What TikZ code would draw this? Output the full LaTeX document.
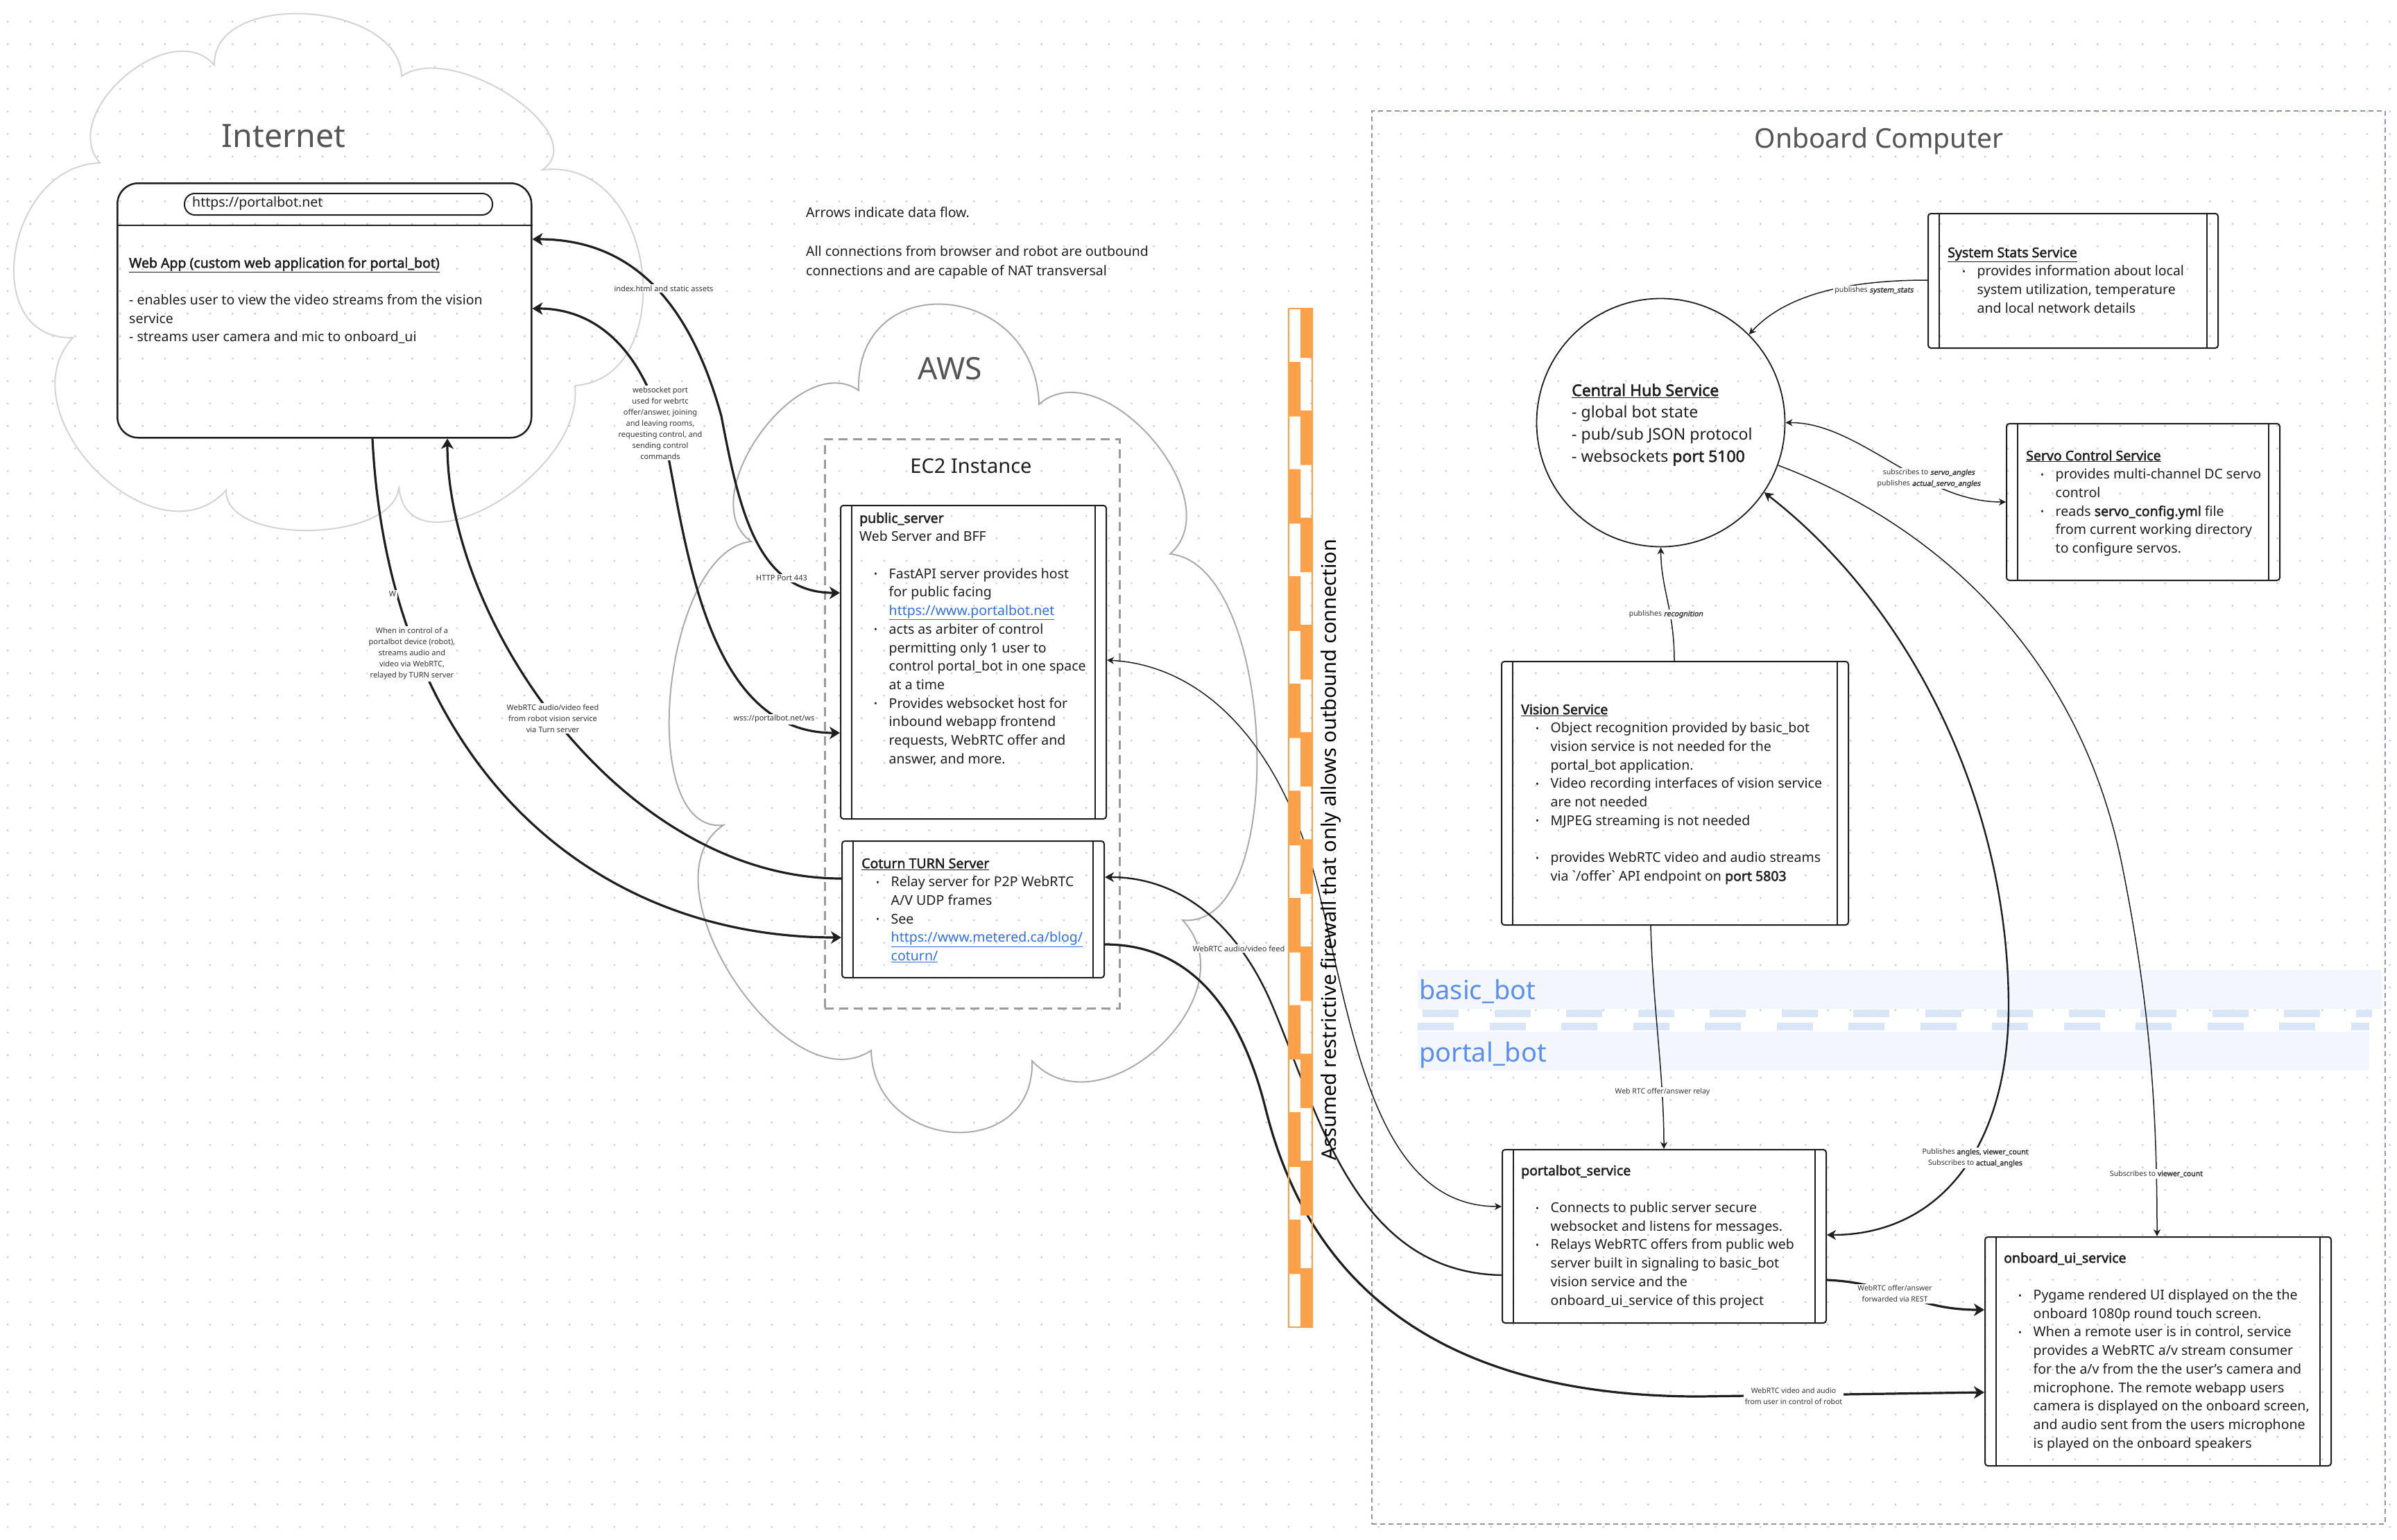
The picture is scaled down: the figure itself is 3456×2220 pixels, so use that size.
\documentclass[tikz,border=0pt]{standalone}
\usepackage{fontspec}
\setmainfont{Noto Sans}[AutoFakeBold=2.2, AutoFakeSlant=0.2]
\usetikzlibrary{arrows.meta,calc}
\definecolor{ink}{HTML}{1E1E1E}
\definecolor{lbl}{HTML}{333333}
\definecolor{titlec}{HTML}{555555}
\definecolor{cloudA}{HTML}{D4D4D4}
\definecolor{cloudB}{HTML}{ABABAB}
\definecolor{fw}{RGB}{253,160,74}
\definecolor{link}{HTML}{2F6FEB}
\definecolor{bandc}{HTML}{F4F6FD}
\definecolor{dashc}{HTML}{D9E6F8}
\definecolor{blu}{HTML}{5B8FEF}
\definecolor{dotc}{HTML}{D0D0D0}
\definecolor{obc}{HTML}{8C96A8}
\definecolor{ec2c}{HTML}{9A9A9A}
\newcommand\bodyfont{\fontsize{19.5pt}{26.7pt}\selectfont}
\newcommand\bitem{\hspace*{21pt}\makebox[21.5pt][l]{\fontsize{13pt}{13pt}\selectfont\raisebox{1.5pt}{•}}}
\newcommand\bcont{\hspace*{42.5pt}}
\tikzset{
  txt/.style={inner sep=0pt, align=left, anchor=north west, font=\bodyfont, text=ink},
  lab/.style={inner sep=2pt, fill=white, align=center, font=\fontsize{11pt}{16pt}\selectfont, text=lbl},
  labs/.style={lab, font=\fontsize{10.5pt}{16pt}\selectfont},
  procbox/.style={draw=ink, line width=2pt, rounded corners=4pt, inner sep=0pt, anchor=north west,
    path picture={\draw[ink, line width=2pt]
      ([xshift=16pt]path picture bounding box.north west) -- ([xshift=16pt]path picture bounding box.south west)
      ([xshift=-16pt]path picture bounding box.north east) -- ([xshift=-16pt]path picture bounding box.south east);}},
  bigtitle/.style={inner sep=0pt, text=titlec},
  thickc/.style={draw=ink, line width=3.2pt},
  midc/.style={draw=ink, line width=2.4pt},
  thinc/.style={draw=ink, line width=1.5pt},
  BigTip/.tip={Stealth[length=15pt,width=18pt,inset=4.5pt]},
  MidTip/.tip={Stealth[length=13pt,width=14pt,inset=4pt]},
  SmallTip/.tip={Stealth[length=10pt,width=10pt,inset=3pt]},
}
\begin{document}
\begin{tikzpicture}[x=1pt,y=-1pt]
\useasboundingbox (0,0) rectangle (3456,2220);
\fill[white] (0,0) rectangle (3456,2220);
% dot grid
\foreach \j in {0,...,67} {
  \fill[dotc] \foreach \i in {0,...,106} { (10+32.4*\i, 30+32.4*\j) rectangle ++(2.4,2.4) };
}

% clouds
\draw[cloudA, line width=2pt] (309,94)
  .. controls (306.3,-15.3) and (576.3,0.7) .. (579,110)
  .. controls (654,58) and (857,193) .. (782,245)
  .. controls (950,225) and (981,546) .. (829,556)
  .. controls (843,688) and (585,833) .. (575,701)
  .. controls (573,782.3) and (324,788.3) .. (326,707)
  .. controls (225.3,817.7) and (4.3,597.7) .. (105,487)
  .. controls (-31.7,491) and (7.3,239) .. (144,235)
  .. controls (82,162.3) and (247,21.3) .. (309,94) -- cycle;
\draw[cloudB, line width=2pt] (1083,781)
  .. controls (996,720) and (1151,502) .. (1238,563)
  .. controls (1232.7,384.3) and (1492.7,404.3) .. (1498,583)
  .. controls (1588,504) and (1777,720) .. (1687,799)
  .. controls (1841.7,813.7) and (1859.7,1341.7) .. (1705,1327)
  .. controls (1805.7,1434.3) and (1588.7,1637.3) .. (1488,1530)
  .. controls (1492,1677.3) and (1260,1662.3) .. (1256,1515)
  .. controls (1134,1595.7) and (921,1270.7) .. (1043,1190)
  .. controls (915,1204) and (955,795) .. (1083,781) -- cycle;

\node[bigtitle, font=\fontsize{46.5pt}{50pt}\selectfont] (inet) at (409,196) {Internet};
\node[bigtitle, font=\fontsize{44.5pt}{50pt}\selectfont] (aws) at (1370,532) {AWS};

% band basic_bot / portal_bot
\fill[bandc] (2044,1399) rectangle (3434,1455);
\fill[bandc] (2044,1488) rectangle (3416,1544);
\draw[dashc, line width=11pt, dash pattern=on 52pt off 51.5pt] (2051,1461.5) -- (3420,1461.5);
\draw[dashc, line width=11pt, dash pattern=on 52pt off 51.5pt] (2044,1480.5) -- (3416,1480.5);
\node[inner sep=0pt, anchor=base west, text=blu, font=\fontsize{38pt}{44pt}\selectfont] (bb) at (2046,1441) {basic\_bot};
\node[inner sep=0pt, anchor=base west, text=blu, font=\fontsize{38pt}{44pt}\selectfont] (pbt) at (2046,1531) {portal\_bot};

% containers
\node[draw=ec2c, line width=2.5pt, dash pattern=on 13pt off 8pt, minimum width=425pt, minimum height=821pt, anchor=north west, inner sep=0pt] (ec2) at (1188,632) {};
\node[inner sep=0pt, text=ink, font=\fontsize{29pt}{34pt}\selectfont] (ec2t) at (1400,672) {EC2 Instance};
\node[draw=obc, line width=1.6pt, dash pattern=on 7pt off 5pt, minimum width=1461pt, minimum height=2038pt, anchor=north west, inner sep=0pt] (ob) at (1977,159) {};
\node[bigtitle, font=\fontsize{39pt}{44pt}\selectfont] (obt) at (2709,203) {Onboard Computer};

% note
\node[txt, font=\fontsize{19.5pt}{28pt}\selectfont] (note) at (1162,293.2) {\strut Arrows indicate data flow.\\[28pt]All connections from browser and robot are outbound\\connections and are capable of NAT transversal};

% web app
\node[draw=ink, line width=2.5pt, rounded corners=30pt, minimum width=597pt, minimum height=367pt, anchor=north west, inner sep=0pt] (wa) at (168,263) {};
\draw[ink, line width=2pt] (wa.west |- 0,325) -- (wa.east |- 0,325);
\node[draw=ink, line width=2pt, rounded corners=15pt, minimum width=444pt, minimum height=31pt, anchor=north west, inner sep=0pt] (addr) at (265,278) {};
\node[inner sep=0pt, anchor=west, font=\bodyfont, text=ink] (addrt) at (277,293) {https://portalbot.net};
\node[txt] (wat) at (186,367.2) {\strut\textbf{\underline{Web App (custom web application for portal\_bot)}}\\[26.7pt]- enables user to view the video streams from the vision\\service\\- streams user camera and mic to onboard\_ui};

% public_server
\node[procbox, minimum width=383pt, minimum height=452pt] (ps) at (1211,728) {};
\node[txt] (pst) at (1239,735.2) {\strut\textbf{public\_server}\\Web Server and BFF\\[26.7pt]\bitem FastAPI server provides host\\\bcont for public facing\\\bcont{\color{link}\underline{https://www.portalbot.net}}\\\bitem acts as arbiter of control\\\bcont permitting only 1 user to\\\bcont control portal\_bot in one space\\\bcont at a time\\\bitem Provides websocket host for\\\bcont inbound webapp frontend\\\bcont requests, WebRTC offer and\\\bcont answer, and more.};

% coturn
\node[procbox, minimum width=378pt, minimum height=197pt] (ct) at (1213,1212) {};
\node[txt] (ctt) at (1242,1233.2) {\strut\textbf{\underline{Coturn TURN Server}}\\\bitem Relay server for P2P WebRTC\\\bcont A/V UDP frames\\\bitem See\\\bcont{\color{link}\underline{https://www.metered.ca/blog/}}\\\bcont{\color{link}\underline{coturn/}}};

% central hub
\node[draw=ink, line width=1.8pt, circle, minimum size=358pt, inner sep=0pt] (hub) at (2394.5,609.5) {};
\node[txt, font=\fontsize{23pt}{31.7pt}\selectfont] (hubt) at (2266,548.7) {\strut\textbf{\underline{Central Hub Service}}\\- global bot state\\- pub/sub JSON protocol\\- websockets \textbf{port 5100}};

% system stats
\node[procbox, minimum width=418pt, minimum height=194pt] (ss) at (2779,307) {};
\node[txt] (sst) at (2808,352.2) {\strut\textbf{\underline{System Stats Service}}\\\bitem provides information about local\\\bcont system utilization, temperature\\\bcont and local network details};

% servo
\node[procbox, minimum width=394pt, minimum height=226pt] (sv) at (2892,610) {};
\node[txt] (svt) at (2921,645.2) {\strut\textbf{\underline{Servo Control Service}}\\\bitem provides multi-channel DC servo\\\bcont control\\\bitem reads \textbf{servo\_config.yml} file\\\bcont from current working directory\\\bcont to configure servos.};

% vision
\node[procbox, minimum width=500pt, minimum height=380pt] (vs) at (2164,953) {};
\node[txt] (vst) at (2193,1011.2) {\strut\textbf{\underline{Vision Service}}\\\bitem Object recognition provided by basic\_bot\\\bcont vision service is not needed for the\\\bcont portal\_bot application.\\\bitem Video recording interfaces of vision service\\\bcont are not needed\\\bitem MJPEG streaming is not needed\\[26.7pt]\bitem provides WebRTC video and audio streams\\\bcont via \textasciigrave/offer\textasciigrave{} API endpoint on \textbf{port 5803}};

% portalbot_service
\node[procbox, minimum width=467pt, minimum height=250pt] (pb) at (2165,1657) {};
\node[txt] (pbtx) at (2193,1676.2) {\strut\textbf{portalbot\_service}\\[26.7pt]\bitem Connects to public server secure\\\bcont websocket and listens for messages.\\\bitem Relays WebRTC offers from public web\\\bcont server built in signaling to basic\_bot\\\bcont vision service and the\\\bcont onboard\_ui\_service of this project};

% onboard_ui_service
\node[procbox, minimum width=499pt, minimum height=330pt] (ou) at (2861,1783) {};
\node[txt] (out) at (2889,1802.2) {\strut\textbf{onboard\_ui\_service}\\[26.7pt]\bitem Pygame rendered UI displayed on the the\\\bcont onboard 1080p round touch screen.\\\bitem When a remote user is in control, service\\\bcont provides a WebRTC a/v stream consumer\\\bcont for the a/v from the the user's camera and\\\bcont microphone. The remote webapp users\\\bcont camera is displayed on the onboard screen,\\\bcont and audio sent from the users microphone\\\bcont is played on the onboard speakers};

% connectors
\draw[thickc, BigTip-BigTip] (wa.east |- 0,345) .. controls (900,345) and (990,420) .. (1040,600) .. controls (1065,730) and (1090,855) .. (ps.west |- 0,855);
\draw[thickc, BigTip-BigTip] (wa.east |- 0,445) .. controls (870,445) and (935,520) .. (960,640) .. controls (990,790) and (1020,1057) .. (ps.west |- 0,1057);
\draw[thickc, -BigTip] (wa.south -| 537,0) .. controls (560,1100) and (850,1352) .. (ct.west |- 0,1352);
\draw[thickc, -BigTip] (ct.west |- 0,1267) .. controls (900,1267) and (645,900) .. (wa.south -| 645,0);
\draw[thinc, SmallTip-SmallTip] (ps.east |- 0,952) .. controls (1740,960) and (1850,1080) .. (1900,1280) .. controls (1950,1480) and (1980,1740) .. (pb.west |- 0,1740);
\draw[midc, -MidTip] (pb.west |- 0,1839) .. controls (1950,1835) and (1900,1600) .. (1830,1440) .. controls (1780,1330) and (1700,1265) .. (ct.east |- 0,1265);
\draw[thickc, -BigTip] (ct.east |- 0,1362) .. controls (1720,1362) and (1790,1460) .. (1825,1600) .. controls (1870,1780) and (2000,2014) .. (2450,2014) -- (ou.west |- 0,2008);
\draw[thickc, -BigTip] (pb.east |- 0,1846) .. controls (2730,1850) and (2760,1889) .. (ou.west |- 0,1889);
\draw[thinc, -SmallTip] (ss.west |- 0,404) .. controls (2650,404) and (2570,430) .. (hub.45);
\draw[thinc, SmallTip-SmallTip] (hub.east) .. controls (2680,609) and (2770,724) .. (sv.west |- 0,724);
\draw[thinc, -SmallTip] (vs.north -| 2414,0) .. controls (2414,880) and (2395,850) .. (hub.south);
\draw[thinc, -SmallTip] (vs.south -| 2380,0) .. controls (2383,1450) and (2399,1550) .. (pb.north -| 2399,0);
\draw[midc, MidTip-MidTip] (hub.-34) .. controls (2750,870) and (2895,1150) .. (2896,1450) .. controls (2896,1650) and (2800,1781) .. (pb.east |- 0,1781);
\draw[thinc, -SmallTip] (hub.-20) .. controls (2800,760) and (3000,950) .. (3060,1250) .. controls (3100,1450) and (3110,1600) .. (ou.north -| 3110,0);

% connector labels
\node[lab] (lidx) at (957,416) {index.html and static assets};
\node[lab] (lhttp) at (1127,834) {HTTP Port 443};
\node[lab] (lws) at (952,610) {websocket port\\used for webrtc\\offer/answer, joining\\and leaving rooms,\\requesting control, and\\sending control\\commands};
\node[lab] (lwss) at (1116,1037) {wss://portalbot.net/ws};
\node[lab] (lw) at (566,857) {W};
\node[lab] (lwhen) at (594,943) {When in control of a\\portalbot device (robot),\\streams audio and\\video via WebRTC,\\relayed by TURN server};
\node[lab] (lfeed) at (797,1036) {WebRTC audio/video feed\\from robot vision service\\via Turn server};
\node[lab] (lav) at (1786,1368) {WebRTC audio/video feed};
\node[labs] (lva) at (2586,2014) {WebRTC video and audio\\from user in control of robot};
\node[labs] (lsys) at (2702,419) {publishes \textbf{\textit{system\_stats}}};
\node[labs] (lservo) at (2781,690) {subscribes to \textbf{\textit{servo\_angles}}\\publishes \textbf{\textit{actual\_servo\_angles}}};
\node[labs] (lrec) at (2402,886) {publishes \textbf{\textit{recognition}}};
\node[labs] (lrelay) at (2397,1575) {Web RTC offer/answer relay};
\node[labs] (lang) at (2848,1670) {Publishes \textbf{angles, viewer\_count}\\Subscribes to \textbf{actual\_angles}};
\node[labs] (lview) at (3109,1693) {Subscribes to \textbf{viewer\_count}};
\node[labs] (lrest) at (2732,1866) {WebRTC offer/answer\\forwarded via REST};

% firewall
\fill[fw, even odd rule] (1857,444) rectangle (1893,1915)
  \foreach \k in {0,...,8} { (1859,446+154.6*\k) rectangle (1875,522+154.6*\k) (1875,516+154.6*\k) rectangle (1891,592+154.6*\k) }
  (1859,1837.4) rectangle (1875,1913);
\node[inner sep=0pt, rotate=90, anchor=base, text=black, font=\fontsize{29pt}{34pt}\selectfont] (fwt) at (1926,1225.5) {Assumed restrictive firewall that only allows outbound connection};
\end{tikzpicture}
\end{document}
